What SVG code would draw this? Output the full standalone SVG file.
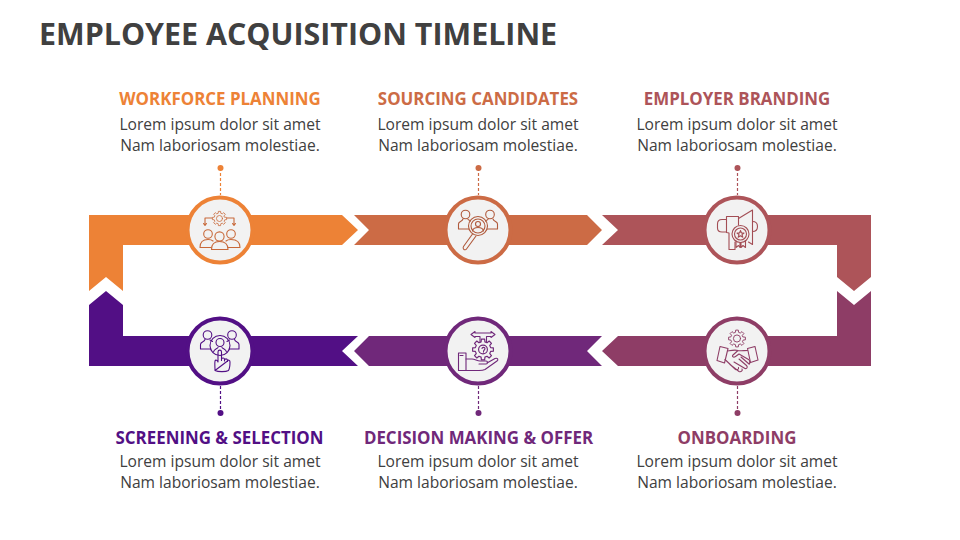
<svg xmlns="http://www.w3.org/2000/svg" width="960" height="540" viewBox="0 0 960 540">
<style>
text{font-family:"Open Sans","Noto Sans","Liberation Sans",sans-serif;text-anchor:middle}
.t{font-size:30.4px;font-weight:700;fill:#404040;text-anchor:start}
.h{font-size:16.9px;font-weight:700}
.b{font-size:15.6px;fill:#404040}
.ring{fill:#f2f2f2;stroke-width:4}
.dash{fill:none;stroke-width:1.2;stroke-dasharray:3 2}
.i{fill:none;stroke-width:1.1;stroke-linejoin:round;stroke-linecap:round}
.i *{vector-effect:non-scaling-stroke}
.c1{fill:#ED8236;stroke:#ED8236}.c2{fill:#CC6B45;stroke:#CC6B45}.c3{fill:#AD5459;stroke:#AD5459}
.c4{fill:#8E3D66;stroke:#8E3D66}.c5{fill:#70287A;stroke:#70287A}.c6{fill:#520F85;stroke:#520F85}
.bar{stroke:none}
.ring.k1{fill:#f2f2f2;stroke:#ED8236}.ring.k2{fill:#f2f2f2;stroke:#CC6B45}.ring.k3{fill:#f2f2f2;stroke:#AD5459}
.ring.k4{fill:#f2f2f2;stroke:#8E3D66}.ring.k5{fill:#f2f2f2;stroke:#70287A}.ring.k6{fill:#f2f2f2;stroke:#520F85}
</style>
<defs>
<g id="gear"><polygon points="7.28,-1.81 9.88,-1.56 9.88,1.56 7.28,1.81 6.43,3.86 8.09,5.88 5.88,8.09 3.86,6.43 1.81,7.28 1.56,9.88 -1.56,9.88 -1.81,7.28 -3.86,6.43 -5.88,8.09 -8.09,5.88 -6.43,3.86 -7.28,1.81 -9.88,1.56 -9.88,-1.56 -7.28,-1.81 -6.43,-3.86 -8.09,-5.88 -5.88,-8.09 -3.86,-6.43 -1.81,-7.28 -1.56,-9.88 1.56,-9.88 1.81,-7.28 3.86,-6.43 5.88,-8.09 8.09,-5.88 6.43,-3.86"/><circle r="4.2"/></g>
</defs>
<text class="t" x="39" y="45">EMPLOYEE ACQUISITION TIMELINE</text>
<g id="connectors">
<polygon class="bar c1" points="89,215 342,215 358,230 342,245 123,245 123,291 106,277 89,291"/>
<polygon class="bar c2" points="354,215 587,215 602,230 587,245 354,245 369,230"/>
<polygon class="bar c3" points="602,215 871,215 871,277 854,291 837,277 837,245 602,245 618,230"/>
<polygon class="bar c4" points="871,291 871,366 618,366 602,351 618,336 837,336 837,291 854,305"/>
<polygon class="bar c5" points="602,336 587,351 602,366 369,366 354,351 369,336"/>
<polygon class="bar c6" points="89,305 106,291 123,305 123,336 358,336 342,351 358,366 89,366"/>
</g>
<g id="node1">
<text class="h" x="220" y="105" fill="#ED8236">WORKFORCE PLANNING</text>
<text class="b" x="220" y="130">Lorem ipsum dolor sit amet</text>
<text class="b" x="220" y="151">Nam laboriosam molestiae.</text>
<path class="dash" stroke="#ED8236" d="M220.500,168V195"/><circle cx="220.500" cy="168" r="3" fill="#ED8236"/>
<circle class="ring k1" cx="220" cy="230" r="32.500"/>
<g class="i" stroke="#C8693A">
<use href="#gear" transform="translate(219.500,218.500) scale(.72)"/>
<path d="M212,218H205V225M203.500,223.500L205,225.500L206.500,223.500M227,218H234V225M232.500,223.500L234,225.500L235.500,223.500"/>
<circle cx="208" cy="234" r="4.300"/><circle cx="231" cy="234" r="4.300"/><circle cx="219.500" cy="236.500" r="4.600"/>
<path d="M200,247.500C200,241 204,239.500 208,239.500C210,239.500 212,240 213,241M226,241C227,240 229,239.500 231,239.500C235,239.500 240,241 240,247.500H228M200,247.500H211"/>
<path d="M211.500,249.500C211.500,243.500 215,241.500 219.500,241.500C224,241.500 228,243.500 228,249.500Z"/>
</g>
</g>
<g id="node2">
<text class="h" x="478" y="105" fill="#CC6B45">SOURCING CANDIDATES</text>
<text class="b" x="478" y="130">Lorem ipsum dolor sit amet</text>
<text class="b" x="478" y="151">Nam laboriosam molestiae.</text>
<path class="dash" stroke="#CC6B45" d="M478.500,168V195"/><circle cx="478.500" cy="168" r="3" fill="#CC6B45"/>
<circle class="ring k2" cx="478" cy="230" r="32.500"/>
<g class="i" stroke="#B05A3C">
<circle cx="465.500" cy="214.500" r="4.300"/><circle cx="490" cy="214.500" r="4.300"/>
<path d="M463,219C462,222 458.500,221 458.500,224V229H469M468,219.500C469,220 470,220.500 470.500,221M493,219C494,222 497.500,221 497.500,224V229H487M488,219.500C487,220 486,220.500 485.500,221"/>
<circle cx="478" cy="226" r="9.500"/><circle cx="478" cy="226" r="7"/><circle cx="478" cy="224" r="2.500"/>
<path d="M472.500,231C473,228 475,227.500 478,227.500C481,227.500 483,228 483.500,231"/>
<path d="M472.500,234L463.500,246.500C462,249 465,251 466.500,249L476,236"/>
</g>
</g>
<g id="node3">
<text class="h" x="737" y="105" fill="#AD5459">EMPLOYER BRANDING</text>
<text class="b" x="737" y="130">Lorem ipsum dolor sit amet</text>
<text class="b" x="737" y="151">Nam laboriosam molestiae.</text>
<path class="dash" stroke="#AD5459" d="M737.500,168V195"/><circle cx="737.500" cy="168" r="3" fill="#AD5459"/>
<circle class="ring k3" cx="737" cy="230" r="32.500"/>
<g class="i" stroke="#A34E55">
<path d="M726.500,219.500H722C719,219.500 717.500,221.500 717.500,224V228C717.500,230.500 719,232 722,232H726.500"/>
<path d="M726.500,216.500H738.500V225M726.500,216.500V232.500L729,233V249.500H735V242"/>
<path d="M738.500,218.500L752.500,210V244.500L748.500,242"/>
<path d="M752.500,221.500C756,221.500 757.500,223.500 757.500,226.500C757.500,229.500 756,231.500 752.500,231.500"/>
<circle cx="740.500" cy="234" r="8.500"/><circle cx="740.500" cy="234" r="6"/>
<polygon points="740.500,230.500 741.500,233 744,233 742,234.700 742.800,237.200 740.500,235.800 738.200,237.200 739,234.700 737,233 739.500,233"/>
<path d="M736,241V247.500L738.500,245.500L740,247.500V242.500M741,242.500V247.500L743,245.500L745.500,247.500V241"/>
</g>
</g>
<g id="node4">
<text class="h" x="737" y="444" fill="#8E3D66">ONBOARDING</text>
<text class="b" x="737" y="467">Lorem ipsum dolor sit amet</text>
<text class="b" x="737" y="488">Nam laboriosam molestiae.</text>
<path class="dash" stroke="#8E3D66" d="M737.500,386V413"/><circle cx="737.500" cy="413" r="3" fill="#8E3D66"/>
<circle class="ring k4" cx="737" cy="351" r="32.500"/>
<g class="i" stroke="#8E3D66">
<use href="#gear" transform="translate(737,338.500) scale(.85)"/>
<polygon points="720,346.500 728,348.500 724.500,363 717,360.500"/>
<polygon points="747.500,348.500 755,346.500 758,360 750.500,362.500"/>
<path d="M728,351C733,350 735,349.500 738,350.500L733,355C731.500,356.500 733.500,358 735.500,356.500L739,354L748.500,359.500M747.500,350.500C744,350.500 741,351 738,350.500M725,359.500L735,369C737,370.500 739,369.500 738.500,367.500M730,364.500L739,371.500C741,372.500 743,370.500 742,369M734,362L745,368.500C747,369 748,367 746.500,365.500L739,359M741,357L749,364C750,365 750,360 749,360"/>
</g>
</g>
<g id="node5">
<text class="h" x="478.500" y="444" fill="#70287A">DECISION MAKING &amp; OFFER</text>
<text class="b" x="478" y="467">Lorem ipsum dolor sit amet</text>
<text class="b" x="478" y="488">Nam laboriosam molestiae.</text>
<path class="dash" stroke="#70287A" d="M478.500,386V413"/><circle cx="478.500" cy="413" r="3" fill="#70287A"/>
<circle class="ring k5" cx="478" cy="351" r="32.500"/>
<g class="i" stroke="#70287A">
<path d="M471,334.500L475,331.500V333H491V331.500L495,334.500L491,337.500V336.500H486.500V342M471,334.500L475,337.500V336.500H480V342"/>
<use href="#gear" transform="translate(483,349.500) scale(1.05)"/>
<path d="M482,348.500C482,347 485,347 485,348.500C485,350 483.500,350 483.500,351.500M483.500,352.700V353"/>
<rect x="458.500" y="353" width="7.500" height="17.500"/><path d="M460,355.500H463"/>
<path d="M466,359H472C475,359 477,361 480,361H486C488,361 488,364 486,364H479M487,363L495,358.500C498,357.500 498.500,360 497,361L485,369.500C483,370.500 481,370.500 479,370.500H466"/>
</g>
</g>
<g id="node6">
<text class="h" x="219.500" y="444" fill="#520F85">SCREENING &amp; SELECTION</text>
<text class="b" x="220" y="467">Lorem ipsum dolor sit amet</text>
<text class="b" x="220" y="488">Nam laboriosam molestiae.</text>
<path class="dash" stroke="#520F85" d="M220.500,386V413"/><circle cx="220.500" cy="413" r="3" fill="#520F85"/>
<circle class="ring k6" cx="220" cy="351" r="32.500"/>
<g class="i" stroke="#520F85">
<circle cx="207.500" cy="335" r="4.300"/><circle cx="232" cy="335" r="4.300"/>
<path d="M205,339.500C204,342.500 200.500,341.500 200.500,344.500V349H211M210,340C211,340.500 212,341 212.500,341.500M234.500,339.500C235.500,342.500 239,341.500 239,344.500V349H229M229.500,340C228.500,340.500 227.500,341 227,341.500"/>
<circle cx="220" cy="345.500" r="10"/><circle cx="220" cy="342.500" r="4"/>
<path d="M213.500,352C214,349 217,349 218,347.500M226.500,352C226,349 223,349 222,347.500"/>
<path d="M215,370.500C215,366 214.500,364 215,361C215.500,359.500 217.500,360 218,362V352C218,349.500 221.500,349.500 221.500,352V360M221.500,360.500V359C222,357.500 224.500,357.500 224.500,359.500V361M224.500,360C225,358.500 227,358.500 227.500,360V361.500M227.500,361C228,359.500 230,360 230,362C230,365 230,368 228.500,370.500C226,372 218,372 215,370.500Z"/>
</g>
</g>
</svg>
